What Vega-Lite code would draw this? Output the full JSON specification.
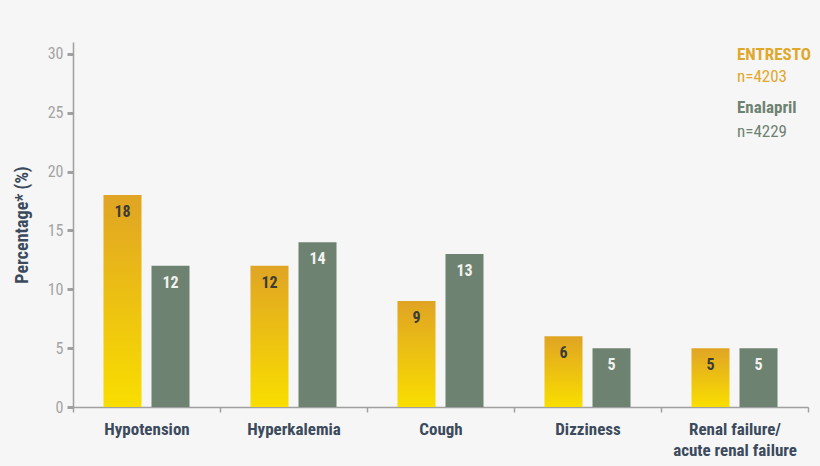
{
  "$schema": "https://vega.github.io/schema/vega-lite/v6.json",
  "width": 735,
  "height": 365,
  "autosize": {"type": "none"},
  "padding": {"left": 73, "top": 42, "right": 12, "bottom": 59},
  "background": "#f6f6f6",
  "config": {
    "view": {"stroke": null},
    "font": "Roboto Condensed, Roboto, Liberation Sans"
  },
  "layer": [
    {
      "data": {
        "values": [
          {"effect": "Hypotension", "drug": "ENTRESTO", "pct": 18},
          {"effect": "Hypotension", "drug": "Enalapril", "pct": 12},
          {"effect": "Hyperkalemia", "drug": "ENTRESTO", "pct": 12},
          {"effect": "Hyperkalemia", "drug": "Enalapril", "pct": 14},
          {"effect": "Cough", "drug": "ENTRESTO", "pct": 9},
          {"effect": "Cough", "drug": "Enalapril", "pct": 13},
          {"effect": "Dizziness", "drug": "ENTRESTO", "pct": 6},
          {"effect": "Dizziness", "drug": "Enalapril", "pct": 5},
          {"effect": "Renal failure/ acute renal failure", "drug": "ENTRESTO", "pct": 5},
          {"effect": "Renal failure/ acute renal failure", "drug": "Enalapril", "pct": 5}
        ]
      },
      "encoding": {
        "x": {
          "field": "effect",
          "type": "nominal",
          "sort": null,
          "scale": {"paddingInner": 0, "paddingOuter": 0},
          "axis": {
            "title": null,
            "tickBand": "extent",
            "domainColor": "#a0a0a0",
            "domainWidth": 1.5,
            "tickColor": "#a0a0a0",
            "tickSize": 5,
            "tickWidth": 1.5,
            "labelAngle": 0,
            "labelColor": "#3b4a5c",
            "labelFontSize": 17,
            "labelFontWeight": "bold",
            "labelPadding": 9,
            "labelLineHeight": 21,
            "labelExpr": "datum.label == 'Renal failure/ acute renal failure' ? ['Renal failure/', 'acute renal failure'] : datum.label"
          }
        },
        "xOffset": {
          "field": "drug",
          "sort": ["ENTRESTO", "Enalapril"],
          "scale": {"paddingInner": 0.208, "paddingOuter": 0.635}
        },
        "y": {
          "field": "pct",
          "type": "quantitative",
          "scale": {"domain": [0, 31]},
          "axis": {
            "values": [0, 5, 10, 15, 20, 25, 30],
            "title": "Percentage* (%)",
            "grid": false,
            "domainColor": "#a0a0a0",
            "domainWidth": 1.5,
            "tickColor": "#a0a0a0",
            "tickSize": 6,
            "tickWidth": 3,
            "labelColor": "#a3a3a3",
            "labelFontSize": 16,
            "labelPadding": 4,
            "titleColor": "#3b4a5c",
            "titleFontSize": 18,
            "titleFontWeight": "bold",
            "titlePadding": 16
          }
        }
      },
      "layer": [
        {
          "mark": {"type": "bar"},
          "encoding": {
            "color": {
              "condition": {
                "test": "datum.drug === 'ENTRESTO'",
                "value": {
                  "gradient": "linear",
                  "x1": 0, "y1": 0, "x2": 0, "y2": 1,
                  "stops": [
                    {"offset": 0, "color": "#e0a424"},
                    {"offset": 1, "color": "#f9de00"}
                  ]
                }
              },
              "value": "#6e8271"
            }
          }
        },
        {
          "mark": {"type": "text", "baseline": "middle", "dy": 17, "fontSize": 16, "fontWeight": "bold"},
          "encoding": {
            "text": {"field": "pct", "type": "quantitative"},
            "color": {
              "condition": {"test": "datum.drug === 'ENTRESTO'", "value": "#3b3d35"},
              "value": "#f2f2ee"
            }
          }
        }
      ]
    },
    {
      "data": {
        "values": [
          {"key": "ENTRESTO"},
          {"key": "n=4203"},
          {"key": "Enalapril"},
          {"key": "n=4229"}
        ]
      },
      "mark": {"type": "text", "text": ""},
      "encoding": {
        "color": {
          "field": "key",
          "type": "nominal",
          "scale": {
            "domain": ["ENTRESTO", "n=4203", "Enalapril", "n=4229"],
            "range": ["#e0a82a", "#e0a82a", "#6e8271", "#6e8271"]
          },
          "legend": {
            "orient": "none",
            "legendX": 647,
            "legendY": 4,
            "title": null,
            "padding": 0,
            "symbolSize": 0,
            "symbolOpacity": 0,
            "symbolStrokeWidth": 0,
            "labelOffset": 0,
            "labelFontSize": 17,
            "labelLimit": 200,
            "rowPadding": 4,
            "encode": {
              "labels": {
                "update": {
                  "fill": {"signal": "indexof(['ENTRESTO', 'n=4203'], datum.label) >= 0 ? '#e0a82a' : '#6e8271'"},
                  "fontWeight": {"signal": "indexof(['ENTRESTO', 'Enalapril'], datum.label) >= 0 ? 'bold' : 'normal'"},
                  "dy": {"signal": "datum.label == 'Enalapril' ? 10 : datum.label == 'n=4229' ? 3 : 0"}
                }
              }
            }
          }
        }
      }
    }
  ]
}
